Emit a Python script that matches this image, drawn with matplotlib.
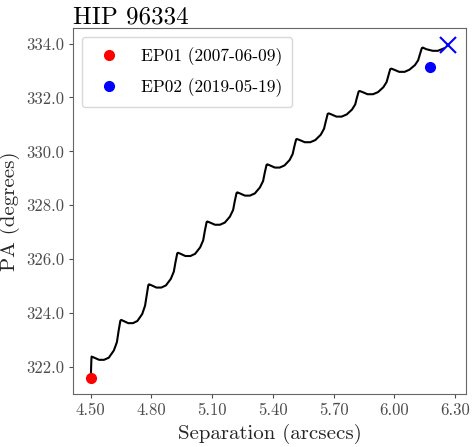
import numpy as np
import matplotlib
matplotlib.use("Agg")
import matplotlib.pyplot as plt
from matplotlib.ticker import FormatStrFormatter

plt.rcParams["font.family"] = ["cmr10", "DejaVu Serif"]
plt.rcParams["mathtext.fontset"] = "cm"
plt.rcParams["axes.formatter.use_mathtext"] = True

# predicted track
sep_track = [
    4.501, 4.502, 4.503, 4.504,
    4.505, 4.518, 4.542, 4.566, 4.590, 4.615, 4.630, 4.638, 4.647,
    4.651, 4.663, 4.686, 4.709, 4.731, 4.755, 4.769, 4.777, 4.785,
    4.789, 4.802, 4.825, 4.849, 4.872, 4.896, 4.911, 4.919, 4.928,
    4.932, 4.945, 4.968, 4.993, 5.016, 5.041, 5.056, 5.064, 5.073,
    5.077, 5.090, 5.114, 5.139, 5.163, 5.188, 5.204, 5.212, 5.221,
    5.225, 5.238, 5.262, 5.287, 5.311, 5.336, 5.352, 5.360, 5.369,
    5.373, 5.386, 5.410, 5.434, 5.458, 5.483, 5.498, 5.506, 5.515,
    5.519, 5.533, 5.558, 5.585, 5.610, 5.637, 5.653, 5.662, 5.671,
    5.676, 5.690, 5.714, 5.740, 5.765, 5.791, 5.807, 5.815, 5.824,
    5.829, 5.843, 5.868, 5.895, 5.920, 5.946, 5.962, 5.971, 5.980,
    5.985, 5.999, 6.024, 6.051, 6.075, 6.102, 6.118, 6.127, 6.136,
    6.141, 6.158, 6.190, 6.215, 6.232, 6.245,
]
pa_track = [
    321.60, 321.85, 322.10, 322.30,
    322.39, 322.35, 322.27, 322.27, 322.35, 322.62, 322.93, 323.33, 323.72,
    323.75, 323.71, 323.63, 323.63, 323.71, 323.97, 324.28, 324.66, 325.04,
    325.07, 325.03, 324.95, 324.95, 325.03, 325.27, 325.54, 325.88, 326.22,
    326.24, 326.20, 326.12, 326.12, 326.20, 326.44, 326.70, 327.04, 327.38,
    327.40, 327.36, 327.28, 327.28, 327.36, 327.58, 327.83, 328.15, 328.46,
    328.48, 328.44, 328.36, 328.36, 328.44, 328.66, 328.90, 329.20, 329.50,
    329.52, 329.48, 329.40, 329.40, 329.48, 329.68, 329.90, 330.17, 330.44,
    330.46, 330.42, 330.34, 330.34, 330.42, 330.62, 330.84, 331.12, 331.39,
    331.41, 331.37, 331.29, 331.29, 331.37, 331.55, 331.74, 331.98, 332.22,
    332.24, 332.20, 332.12, 332.12, 332.20, 332.38, 332.57, 332.81, 333.05,
    333.07, 333.03, 332.95, 332.95, 333.03, 333.20, 333.38, 333.61, 333.83,
    333.85, 333.79, 333.73, 333.73, 333.78, 333.82,
]

# measured epochs
ep_labels = ["EP01 (2007-06-09)", "EP02 (2019-05-19)"]
ep_sep = [4.501, 6.174]
ep_pa = [321.59, 333.13]
ep_colors = ["red", "blue"]

# predicted position for the second epoch
pred_sep = 6.264
pred_pa = 333.94

xticks = [4.50, 4.80, 5.10, 5.40, 5.70, 6.00, 6.30]
yticks = [322.0, 324.0, 326.0, 328.0, 330.0, 332.0, 334.0]

fig = plt.figure(figsize=(4.74, 4.47), dpi=100)
ax = fig.add_axes([0.154, 0.119, 0.829, 0.818])

ax.plot(sep_track, pa_track, color="black", lw=1.5, zorder=2)
for s, p, c, lab in zip(ep_sep, ep_pa, ep_colors, ep_labels):
    ax.plot(s, p, "o", color=c, ms=7, label=lab, zorder=3)
ax.plot(pred_sep, pred_pa, "x", color="blue", ms=12, mew=1.5, zorder=3)

ax.set_xlim(4.413, 6.354)
ax.set_ylim(321.01, 334.57)
ax.set_xticks(xticks)
ax.set_yticks(yticks)
ax.xaxis.set_major_formatter(FormatStrFormatter("%.2f"))
ax.yaxis.set_major_formatter(FormatStrFormatter("%.1f"))
ax.tick_params(labelsize=12, colors="0.3", length=3)
for sp in ax.spines.values():
    sp.set_color("0.4")

ax.set_xlabel("Separation (arcsecs)", fontsize=15, color="0.15")
ax.set_ylabel("PA (degrees)", fontsize=15, color="0.15")
ax.set_title("HIP 96334", loc="left", fontsize=18, pad=3)

ax.legend(loc="upper left", fontsize=12.5, numpoints=1, framealpha=1,
          edgecolor="0.85", borderpad=0.6, labelspacing=0.7)

fig.savefig("out.png", dpi=100)
